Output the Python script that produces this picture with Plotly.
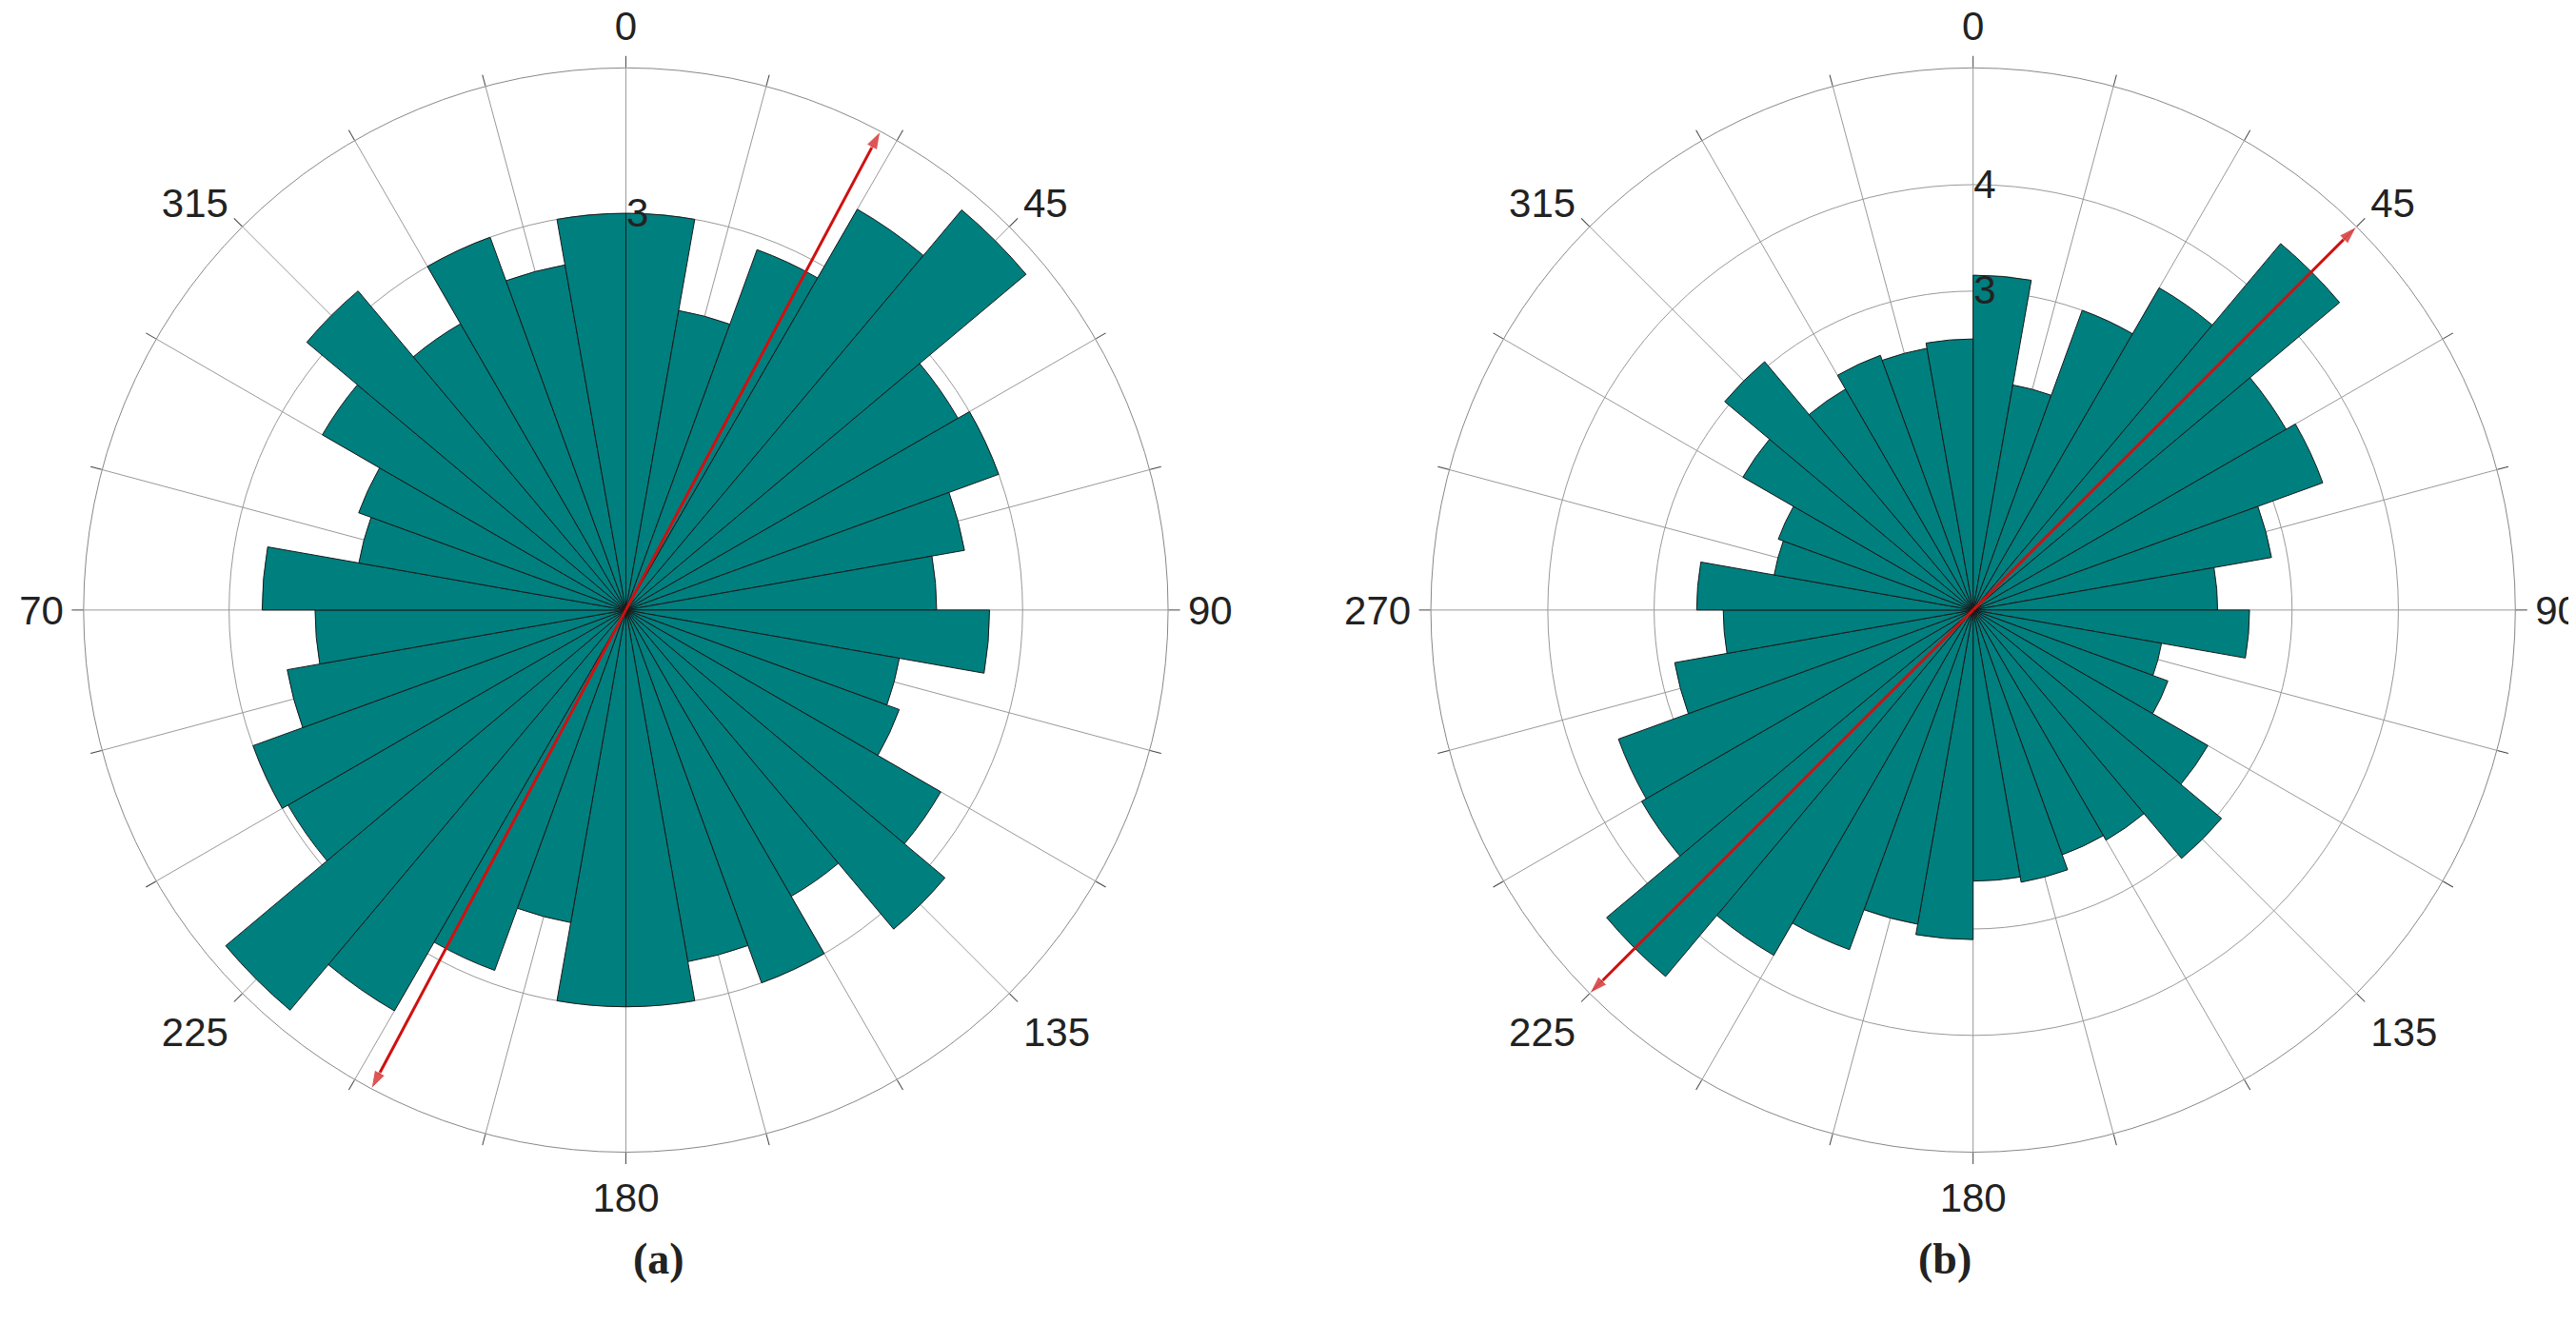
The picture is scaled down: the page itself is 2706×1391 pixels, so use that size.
import plotly.graph_objects as go

theta = [5 + 10 * i for i in range(36)]

rose_a = [3.0, 2.3, 2.9, 3.5, 3.95, 2.9, 3.0, 2.6, 2.35, 2.75, 2.1, 2.2,
          2.75, 3.15, 2.5, 3.0, 2.7, 3.0, 3.0, 2.4, 2.9, 3.5, 3.95, 2.95,
          3.0, 2.6, 2.35, 2.75, 2.05, 2.15, 2.65, 3.15, 2.5, 3.0, 2.65, 3.0]
rose_b = [3.15, 2.15, 3.0, 3.5, 4.5, 3.4, 3.5, 2.85, 2.3, 2.6, 1.8, 1.95,
          2.55, 3.05, 2.5, 2.45, 2.6, 2.55, 3.1, 3.0, 3.4, 3.75, 4.5, 3.6,
          3.55, 2.85, 2.35, 2.6, 1.9, 1.95, 2.5, 3.05, 2.4, 2.55, 2.5, 2.55]

mean_dir_a = 28
mean_dir_b = 45
rmax_a = 4.1
rmax_b = 5.1

grid_angles = list(range(0, 360, 15))
labels_a = ["0", "45", "90", "135", "180", "225", "70", "315"]
labels_b = ["0", "45", "90", "135", "180", "225", "270", "315"]

def ticktext(labels):
    out = []
    for a in grid_angles:
        out.append(labels[a // 45] if a % 45 == 0 else "")
    return out

fig = go.Figure()
for name, vals, d, rmax in [("polar", rose_a, mean_dir_a, rmax_a),
                            ("polar2", rose_b, mean_dir_b, rmax_b)]:
    fig.add_trace(go.Barpolar(r=vals, theta=theta, width=[10] * 36,
                              marker=dict(color="#007f7f", line=dict(color="#1a1a1a", width=1)),
                              subplot=name, showlegend=False))
    for ang in [d, d + 180]:
        fig.add_trace(go.Scatterpolar(r=[0, rmax], theta=[ang, ang], mode="lines+markers",
                                      line=dict(color="#d01010", width=3),
                                      marker=dict(symbol="arrow", size=[0, 20], angleref="previous",
                                                  color="#d01010"),
                                      subplot=name, showlegend=False))

font = dict(family="Liberation Sans, Arial", size=42, color="#222")
def angular(labels):
    return dict(direction="clockwise", rotation=90, tickmode="array", tickvals=grid_angles,
                ticktext=ticktext(labels), showgrid=True, gridcolor="#999", gridwidth=1,
                linecolor="#888", linewidth=1, ticks="outside", ticklen=12, tickcolor="#444",
                tickfont=font)

fig.update_layout(
    width=2706, height=1391, paper_bgcolor="white", margin=dict(l=0, r=0, t=0, b=0),
    polar=dict(domain=dict(x=[0.0295, 0.4505], y=[0.135, 0.955]), bgcolor="white",
               angularaxis=angular(labels_a),
               radialaxis=dict(range=[0, rmax_a], tickvals=[3], angle=90, tickangle=90,
                               showline=False, gridcolor="#999", tickfont=font, ticks="")),
    polar2=dict(domain=dict(x=[0.5525, 0.9735], y=[0.135, 0.955]), bgcolor="white",
                angularaxis=angular(labels_b),
                radialaxis=dict(range=[0, rmax_b], tickvals=[3, 4], angle=90, tickangle=90,
                                showline=False, gridcolor="#999", tickfont=font, ticks="")),
    annotations=[
        dict(text="<b>(a)</b>", x=0.242, y=0.035, xref="paper", yref="paper", showarrow=False,
             font=dict(family="Liberation Serif", size=46, color="#222")),
        dict(text="<b>(b)</b>", x=0.763, y=0.035, xref="paper", yref="paper", showarrow=False,
             font=dict(family="Liberation Serif", size=46, color="#222")),
    ],
)

fig.write_html("out.html")
